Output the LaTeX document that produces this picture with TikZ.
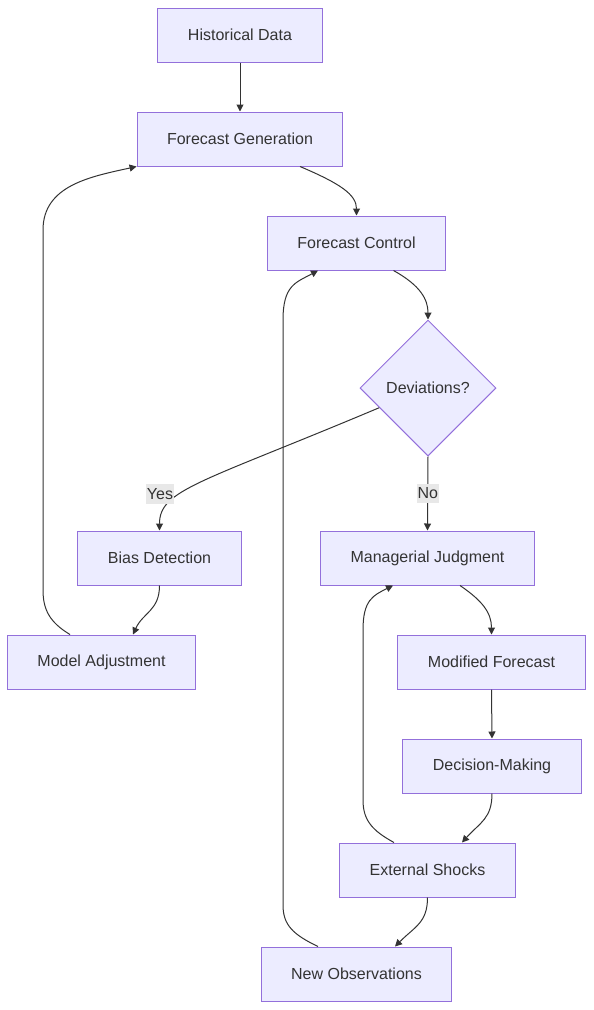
\documentclass[tikz,border=0pt]{standalone}
\usepackage{fontspec}
\setmainfont{Liberation Sans}
\usetikzlibrary{arrows.meta}
\usetikzlibrary{shapes.geometric}
\definecolor{boxFill}{HTML}{ECECFF}
\definecolor{boxLine}{HTML}{9370DB}
\definecolor{ink}{HTML}{333333}
\definecolor{labelFill}{HTML}{E8E8E8}

\begin{document}
\begin{tikzpicture}[x = 1pt, y = -1pt, font=\fontsize{16}{19}\selectfont, text = ink]
\tikzstyle{boxStyle}=[shape = rectangle, draw = boxLine, fill = boxFill, line width = 1pt, minimum height = 54pt, inner xsep = 30pt]
\tikzstyle{decisionStyle}=[shape = diamond, aspect = 1, draw = boxLine, fill = boxFill, line width = 1pt, minimum width = 136pt, minimum height = 136pt, inner sep = 0pt]
\tikzstyle{edgeStyle}=[draw = ink, line width = 1pt, -{Triangle[length = 7pt, width = 7pt]}]
\tikzstyle{labelStyle}=[fill = labelFill, inner xsep = 1pt, inner ysep = 4pt, text = ink]
\useasboundingbox (0,0) rectangle (594,1010);
\node[boxStyle] (hd) at (240, 35) {Historical Data};
\node[boxStyle] (fg) at (240, 139) {Forecast Generation};
\node[boxStyle] (fc) at (356.5, 243) {Forecast Control};
\node[decisionStyle] (dev) at (428, 388) {Deviations?};
\node[boxStyle] (bias) at (159.5, 558) {Bias Detection};
\node[boxStyle] (mj) at (427.5, 558) {Managerial Judgment};
\node[boxStyle] (ma) at (101.5, 662) {Model Adjustment};
\node[boxStyle] (mf) at (491.5, 662) {Modified Forecast};
\node[boxStyle] (dm) at (492, 766) {Decision-Making};
\node[boxStyle] (es) at (427.5, 870) {External Shocks};
\node[boxStyle] (no) at (356.5, 974) {New Observations};
\draw[edgeStyle] (hd.south) -- (fg.north);
\draw[edgeStyle] ([xshift=60pt]fg.south) .. controls +(40,17) and +(0,-21) .. (fc.north);
\draw[edgeStyle] ([xshift=37pt]fc.south) .. controls +(27,15) and +(0,-20) .. (dev.north);
\draw[edgeStyle] (dev.202) .. controls +(-178,75) and +(0,-41) .. (bias.north);
\node[labelStyle] (yes) at (160, 494) {Yes};
\draw[edgeStyle] (dev.south) -- node[labelStyle] (nolbl) {No} (mj.north);
\draw[edgeStyle] (bias.south) .. controls +(0,25) and +(10,-22) .. ([xshift=31.5pt]ma.north);
\draw[edgeStyle] ([xshift=-31.5pt]ma.north) .. controls +(-20,-12) and +(0,20) .. (43,590)
  -- (43,230) .. controls +(0,-45) and +(-45,10) .. (fg.south west);
\draw[edgeStyle] ([xshift=32.5pt]mj.south) .. controls +(22,15) and +(0,-22) .. (mf.north);
\draw[edgeStyle] (mf.south) -- (dm.north);
\draw[edgeStyle] (dm.south) .. controls +(0,25) and +(18,-20) .. ([xshift=34.5pt]es.north);
\draw[edgeStyle] ([xshift=-33.5pt]es.north) .. controls +(-22,-12) and +(0,20) .. (363,800)
  -- (363,630) .. controls +(0,-30) and +(-20,10) .. ([xshift=-34.5pt]mj.south);
\draw[edgeStyle] (es.south) .. controls +(0,25) and +(20,-20) .. ([xshift=38.5pt]no.north);
\draw[edgeStyle] ([xshift=-38.5pt]no.north) .. controls +(-25,-12) and +(0,20) .. (283,905)
  -- (283,320) .. controls +(0,-35) and +(-22,12) .. ([xshift=-38.5pt]fc.south);
\end{tikzpicture}
\end{document}
